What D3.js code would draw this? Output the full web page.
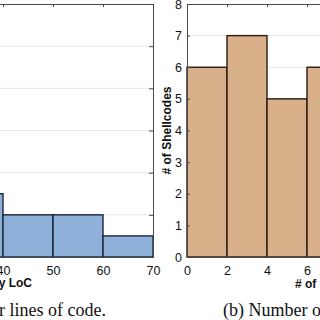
<!DOCTYPE html>
<html>
<head>
<meta charset="utf-8">
<script src="https://cdn.jsdelivr.net/npm/d3@7"></script>
<style>
  html, body { margin: 0; padding: 0; background: #fff; }
  svg { display: block; }
  .tick text { font-family: "Liberation Sans", Arial, sans-serif; font-size: 12.5px; fill: #111; }
  .axis path, .axis line { stroke: #4a4a4a; }
  .ax-title { font-family: "Liberation Sans", Arial, sans-serif; font-weight: bold; font-size: 12px; fill: #111; }
  .caption { font-family: "Liberation Serif", "Times New Roman", serif; font-size: 18px; fill: #111; }
</style>
</head>
<body>
<div id="chart"></div>
<script>
// (a) LoC 直方圖（只看得到右半）
const locEdges = [30, 40, 50, 60, 70];
const locCounts = [3, 2, 2, 1];
const locTicksX = [40, 50, 60, 70];
const locTicksY = [0, 2, 4, 6, 8, 10, 12];

// (b) 直方圖
const sizeEdges = [0, 2, 4, 6, 8];
const sizeCounts = [6, 7, 5, 6];
const sizeTicksX = [0, 2, 4, 6, 8];
const sizeTicksY = [0, 1, 2, 3, 4, 5, 6, 7, 8];

const W = 320, H = 320;
const TOP = 4, BOTTOM = 257;

const svg = d3.select("#chart").append("svg")
  .attr("width", W).attr("height", H);

function panel(opts) {
  const { x, y, edges, counts, ticksY, fill, stroke, xLeft, xRight } = opts;
  const g = svg.append("g");

  // 格線
  g.selectAll(".grid").data(ticksY.slice(1, -1)).enter().append("line")
    .attr("x1", xLeft).attr("x2", xRight)
    .attr("y1", d => y(d)).attr("y2", d => y(d))
    .attr("stroke", "#e6e6e6").attr("stroke-width", 1);

  // 長條
  const bins = counts.map((c, i) => ({ x0: edges[i], x1: edges[i + 1], c }));
  g.selectAll(".bar").data(bins).enter().append("rect")
    .attr("x", d => x(d.x0))
    .attr("width", d => x(d.x1) - x(d.x0))
    .attr("y", d => y(d.c))
    .attr("height", d => y(0) - y(d.c))
    .attr("fill", fill)
    .attr("stroke", stroke)
    .attr("stroke-width", 1.4);
  return g;
}

// ---- (a) ----
const xa = d3.scaleLinear().domain([0, 70]).range([-197, 153]);
const ya = d3.scaleLinear().domain([0, 12]).range([BOTTOM, TOP]);
panel({ x: xa, y: ya, edges: locEdges, counts: locCounts, ticksY: locTicksY,
  fill: "#8fb1d9", stroke: "#17253a", xLeft: -5, xRight: 153 });

svg.append("g").attr("class", "axis")
  .attr("transform", `translate(0,${BOTTOM})`)
  .call(d3.axisBottom(xa).tickValues(locTicksX).tickSizeInner(0).tickSizeOuter(0).tickPadding(9));
svg.append("g").attr("class", "axis")
  .attr("transform", `translate(0,${TOP})`)
  .call(d3.axisTop(xa).tickValues(locTicksX).tickSizeInner(-3).tickSizeOuter(0).tickFormat(""));
svg.append("g").attr("class", "axis")
  .attr("transform", `translate(${xa(70)},0)`)
  .call(d3.axisRight(ya).tickValues(locTicksY).tickSizeInner(-4).tickSizeOuter(0).tickFormat(""));
svg.append("text").attr("class", "ax-title")
  .attr("x", 32).attr("y", 287).attr("text-anchor", "end")
  .text("Shellcodes by LoC");
svg.append("text").attr("class", "caption")
  .attr("x", 106).attr("y", 316).attr("text-anchor", "end")
  .text("(a) Number of shellcodes per lines of code.");

// ---- (b) ----
const xb = d3.scaleLinear().domain([0, 10]).range([187, 387]);
const yb = d3.scaleLinear().domain([0, 8]).range([BOTTOM, TOP]);
panel({ x: xb, y: yb, edges: sizeEdges, counts: sizeCounts, ticksY: sizeTicksY,
  fill: "#d8b08a", stroke: "#2b1a0e", xLeft: 187, xRight: 387 });

svg.append("g").attr("class", "axis")
  .attr("transform", `translate(0,${BOTTOM})`)
  .call(d3.axisBottom(xb).tickValues(sizeTicksX).tickSizeInner(-3).tickSizeOuter(0).tickPadding(9));
svg.append("g").attr("class", "axis")
  .attr("transform", `translate(0,${TOP})`)
  .call(d3.axisTop(xb).tickValues(sizeTicksX).tickSizeInner(-3).tickSizeOuter(0).tickFormat(""));
svg.append("g").attr("class", "axis")
  .attr("transform", `translate(${xb(0)},0)`)
  .call(d3.axisLeft(yb).tickValues(sizeTicksY).tickSizeInner(-3).tickSizeOuter(0).tickPadding(5));
svg.append("text").attr("class", "ax-title")
  .attr("transform", `translate(171,${(TOP + BOTTOM) / 2}) rotate(-90)`)
  .attr("text-anchor", "middle")
  .text("# of Shellcodes");
svg.append("text").attr("class", "ax-title")
  .attr("x", 295).attr("y", 288).attr("text-anchor", "start")
  .text("# of Instructions");
svg.append("text").attr("class", "caption")
  .attr("x", 223).attr("y", 316).attr("text-anchor", "start")
  .text("(b) Number of instructions.");
</script>
</body>
</html>
